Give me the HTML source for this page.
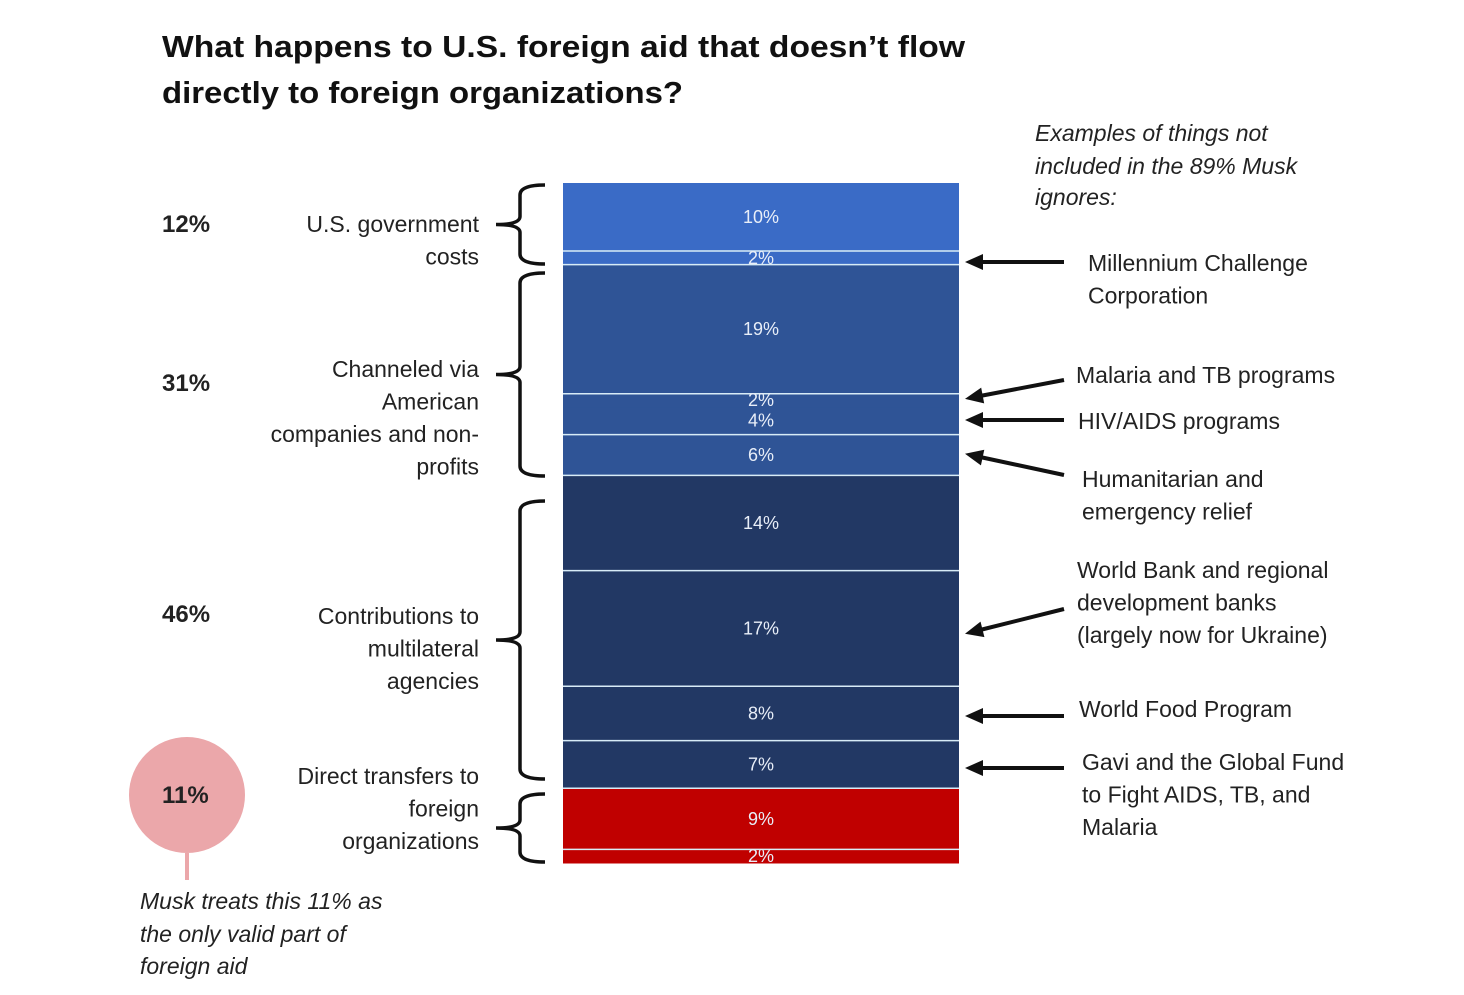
<!DOCTYPE html>
<html><head><meta charset="utf-8"><style>
body{margin:0;background:#fff;width:1464px;height:990px;overflow:hidden;font-family:"Liberation Sans",sans-serif}
svg text{font-family:"Liberation Sans",sans-serif}
</style></head><body>
<svg id="c" width="1464" height="990" xmlns="http://www.w3.org/2000/svg">
<text x="162" y="57" font-size="31" font-weight="bold" fill="#111" textLength="803" lengthAdjust="spacingAndGlyphs">What happens to U.S. foreign aid that doesn’t flow</text>
<text x="162" y="103" font-size="31" font-weight="bold" fill="#111" textLength="521" lengthAdjust="spacingAndGlyphs">directly to foreign organizations?</text>
<g font-size="23" font-style="italic" fill="#222">
<text x="1035" y="141">Examples of things not</text><text x="1035" y="174">included in the 89% Musk</text><text x="1035" y="205">ignores:</text></g>
<circle cx="187" cy="795" r="58" fill="#eba7aa"/>
<line x1="187" y1="853" x2="187" y2="880" stroke="#eba7aa" stroke-width="4"/>
<g id="bar"></g>
<g id="groups"></g>
<g id="notes"></g>
<g font-size="23" font-style="italic" fill="#222">
<text x="140" y="909">Musk treats this 11% as</text><text x="140" y="942">the only valid part of</text><text x="140" y="974">foreign aid</text></g>
</svg>
<script>
const segValues=[10,2,19,2,4,6,14,17,8,7,9,2];
const segGroup=[0,0,1,1,1,1,2,2,2,2,3,3];
const segLabels=["10%","2%","19%","2%","4%","6%","14%","17%","8%","7%","9%","2%"];
const groupColors=["#3a6bc6","#2f5496","#223864","#c00000"];
const groupPct=["12%","31%","46%","11%"];
const groupNames=[["U.S. government","costs"],["Channeled via","American","companies and non-","profits"],["Contributions to","multilateral","agencies"],["Direct transfers to","foreign","organizations"]];
const notes=[[1,["Millennium Challenge","Corporation"]],[3,["Malaria and TB programs"]],[4,["HIV/AIDS programs"]],[5,["Humanitarian and","emergency relief"]],[7,["World Bank and regional","development banks","(largely now for Ukraine)"]],[8,["World Food Program"]],[9,["Gavi and the Global Fund","to Fight AIDS, TB, and","Malaria"]]];
const NS="http://www.w3.org/2000/svg";
const X0=563,W=396,Y0=183,H=680;
const total=segValues.reduce((a,b)=>a+b,0);
const y=v=>Y0+v/total*H;
function mk(t,a,p){const e=document.createElementNS(NS,t);for(const k in a)e.setAttribute(k,a[k]);p.appendChild(e);return e;}
const bar=document.getElementById('bar');
let cum=0;const tops=[],bots=[];
segValues.forEach((v,i)=>{
 const t=y(cum),b=y(cum+v);tops.push(t);bots.push(b);
 const r=mk('rect',{x:X0,y:t,width:W,height:b-t+0.5,fill:groupColors[segGroup[i]]},bar);
 
 
 cum+=v;
});
cum=0;
segValues.forEach((v,i)=>{cum+=v;if(i<segValues.length-1&&i!==3){const l=mk('line',{x1:X0,x2:X0+W,y1:y(cum),y2:y(cum),stroke:'#d8ecf7','stroke-width':1.5},bar);}});
segValues.forEach((v,i)=>{
 const t=tops[i],b=bots[i];
 let ly=(t+b)/2+6;
 if(i===3)ly=t+12; if(i===4)ly=t+19;
 const tx=mk('text',{x:X0+W/2,y:ly,'text-anchor':'middle','font-size':18,fill:'#e8eef8'},bar);
 tx.textContent=segLabels[i];
 
 
});
// groups
const G=document.getElementById('groups');
const brTop=[185,273,501,794],brBot=[264,476,779,862];
const lblY=[232,377,624,784],pctY=[232,391,622,803];
[0,1,2,3].forEach(g=>{
 const t=brTop[g],b=brBot[g],m=(t+b)/2;
 const br=mk('path',{d:`M545 ${t} Q520 ${t} 520 ${t+10} L520 ${m-8} Q520 ${m} 496 ${m} Q520 ${m} 520 ${m+8} L520 ${b-10} Q520 ${b} 545 ${b}`,fill:'none',stroke:'#111','stroke-width':3.5},G);
 
 
 const lines=groupNames[g];const lh=32.5;
 lines.forEach((s,k)=>{const tx=mk('text',{x:479,y:lblY[g]+k*lh,'text-anchor':'end','font-size':23,fill:'#222'},G);tx.textContent=s;
 
 });
 const p=mk('text',{x:162,y:pctY[g],'font-size':24,'font-weight':'bold',fill:'#222'},G);p.textContent=groupPct[g];
 
 
});
// notes
const N=document.getElementById('notes');
const noteY=[263,375,421,479,570,709,762];const tipY=[262,396,420,457,630,716,768];const tailY=[262,380,420,475,609,716,768];
notes.forEach(([si,lines],k)=>{
 const a=mk('line',{x1:1064,y1:tailY[k],x2:980,y2:tipY[k],stroke:'#111','stroke-width':4},N);
 
 
 const ang=Math.atan2(tailY[k]-tipY[k],1064-980);
 const hx=965,hy=tipY[k]-Math.tan(ang)*15;
 const c=Math.cos(ang),s=Math.sin(ang);
 const h=mk('polygon',{points:`${hx},${hy} ${hx+18*c-8*s},${hy+18*s+8*c} ${hx+18*c+8*s},${hy+18*s-8*c}`,fill:'#111'},N);
 
 
 const xx=[1088,1076,1078,1082,1077,1079,1082][k];
 lines.forEach((s2,j)=>{const tx=mk('text',{x:xx,y:noteY[k]+8+j*32.5,'font-size':23,fill:'#222'},N);tx.textContent=s2;
 
 });
});
</script>
</body></html>
